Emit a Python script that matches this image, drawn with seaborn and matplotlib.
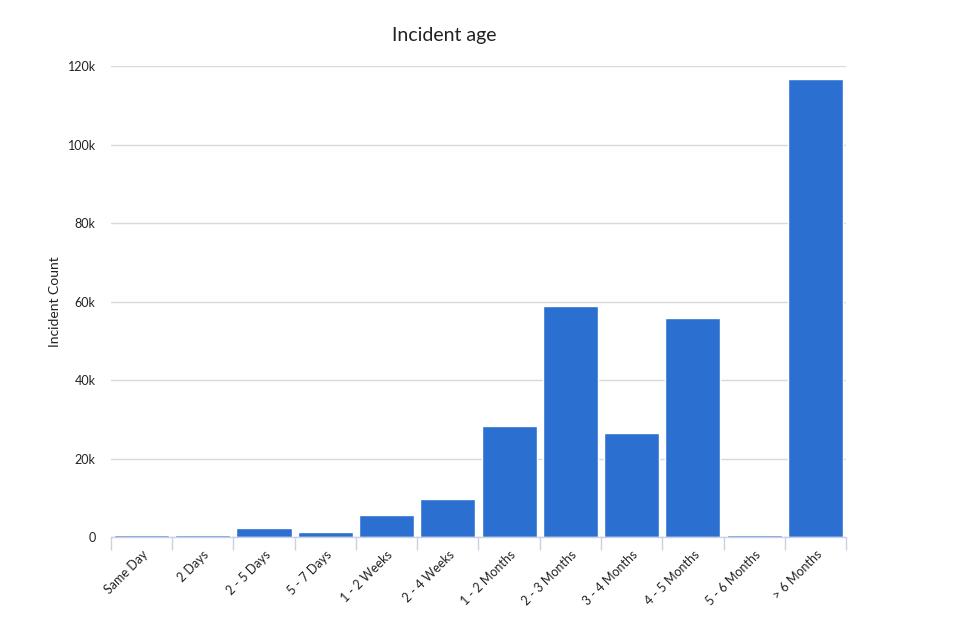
import matplotlib
matplotlib.use("Agg")
import matplotlib.pyplot as plt
import seaborn as sns
import pandas as pd
from matplotlib.ticker import FuncFormatter, FixedLocator

categories = ["Same Day", "2 Days", "2 - 5 Days", "5 - 7 Days", "1 - 2 Weeks", "2 - 4 Weeks",
              "1 - 2 Months", "2 - 3 Months", "3 - 4 Months", "4 - 5 Months", "5 - 6 Months", "> 6 Months"]
counts = [500, 500, 2300, 1300, 5600, 9700, 28300, 58900, 26500, 55800, 500, 116700]

df = pd.DataFrame({"age": categories, "count": counts})

sns.set_theme(style="white")
plt.rcParams["font.family"] = ["Lato", "DejaVu Sans"]

fig = plt.figure(figsize=(9.56, 6.44), dpi=100)
ax = fig.add_axes([0.116, 0.166, 0.769, 0.7315])

sns.barplot(data=df, x="age", y="count", color="#2b70d0", saturation=1, width=0.9, ax=ax)

ax.set_ylim(0, 120000)
ax.set_xlim(-0.5, len(categories) - 0.5)
ax.yaxis.set_major_locator(FixedLocator([0, 20000, 40000, 60000, 80000, 100000, 120000]))
ax.yaxis.set_major_formatter(FuncFormatter(lambda v, p: "0" if v == 0 else f"{int(v/1000)}k"))
ax.grid(axis="y", color="#d9d9d9", linewidth=1)
ax.set_axisbelow(True)
for s in ["top", "right", "left"]:
    ax.spines[s].set_visible(False)
ax.spines["bottom"].set_color("#c8d2e4")
ax.spines["bottom"].set_linewidth(1)

ax.tick_params(axis="y", length=0, pad=11, labelsize=9, labelcolor="#222222")
ax.set_xticks(range(len(categories)))
ax.set_xticklabels(categories, rotation=45, ha="right", rotation_mode="anchor", fontsize=9, color="#222222")
ax.tick_params(axis="x", which="major", length=0, pad=8)
ax.set_xticks([i - 0.5 for i in range(len(categories) + 1)], minor=True)
ax.tick_params(axis="x", which="minor", length=9, color="#c8d2e4", width=1, bottom=True)

ax.set_xlabel("")
ax.set_ylabel("Incident Count", fontsize=10, color="#222222", labelpad=5)
fig.suptitle("Incident age", x=0.465, y=0.958, fontsize=14, color="#222222")

fig.savefig("out.png", dpi=100)
